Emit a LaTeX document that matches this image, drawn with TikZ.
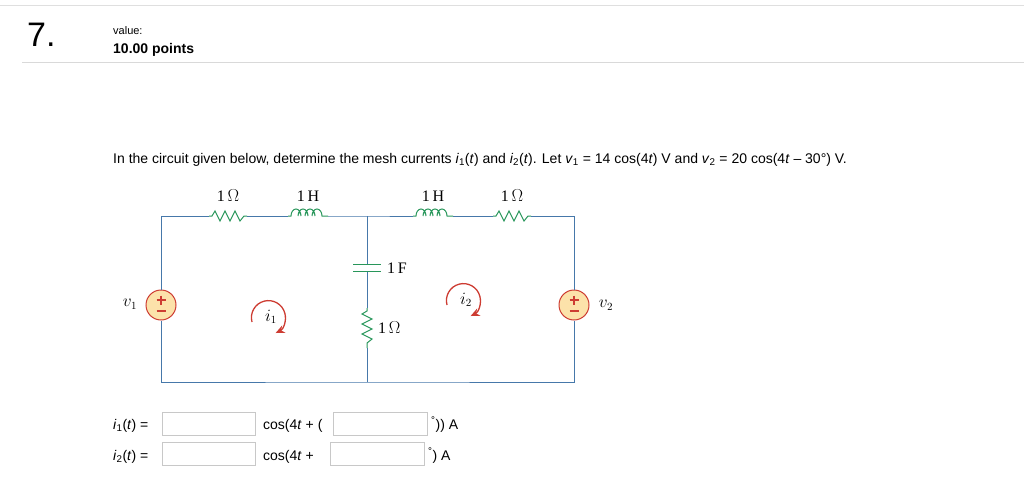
\documentclass[tikz,border=0pt]{standalone}
\usepackage{fontspec}
\setmainfont{Liberation Sans}
\newfontfamily\serif{Liberation Serif}
\usetikzlibrary{arrows.meta}
\definecolor{wireblue}{RGB}{70,120,170}
\definecolor{elgreen}{RGB}{40,150,90}
\definecolor{srcfill}{RGB}{252,226,170}
\definecolor{srcred}{RGB}{205,60,50}
\definecolor{boxgray}{RGB}{200,200,200}
\tikzset{
 wire/.style={draw=wireblue,line width=0.9pt},
 elem/.style={draw=elgreen,line width=1pt},
 lbl/.style={font=\serif\fontsize{16}{16}\selectfont,inner sep=1pt},
 src/.style={circle,draw=srcred,fill=srcfill,line width=1pt,minimum size=30pt,inner sep=0pt},
 mesh/.style={draw=srcred,line width=1.3pt,-{Stealth[length=9pt,width=8pt]}},
 txt/.style={font=\fontsize{14}{14}\selectfont,inner sep=0pt,anchor=base west},
 ansbox/.style={draw=boxgray,line width=0.6pt,minimum width=93pt,minimum height=23pt,inner sep=0pt}
}
\begin{document}
\begin{tikzpicture}[x=1pt,y=-1pt]
\useasboundingbox (0,0) rectangle (1024,495);
\draw[gray!25] (0,5) -- (1024,5);
\draw[gray!30] (22,62) -- (1024,62);
\node[txt,font=\fontsize{34}{34}\selectfont] (num) at (27,46) {7.};
\node[txt,font=\fontsize{11}{11}\selectfont] (val) at (113,35) {value:};
\node[txt,font=\bfseries\fontsize{14}{14}\selectfont] (pts) at (113,53) {10.00 points};
\node[txt] (q) at (113,163) {In the circuit given below, determine the mesh currents \textit{i}\textsubscript{1}(\textit{t}) and \textit{i}\textsubscript{2}(\textit{t}). Let \textit{v}\textsubscript{1} = 14 cos(4\textit{t}) V and \textit{v}\textsubscript{2} = 20 cos(4\textit{t} -- 30°) V.};
% nodes
\coordinate (tl) at (161,216); \coordinate (tm) at (367,216); \coordinate (tr) at (574,216);
\coordinate (bl) at (161,382); \coordinate (bm) at (367,382); \coordinate (br) at (574,382);
\node[src] (s1) at (161,305) {};
\node[src] (s2) at (574,305) {};
\foreach \s in {s1,s2}{
 \draw[srcred,line width=1.1pt] ([yshift=5pt]\s.center) ++(-4.5,0) -- ++(9,0) ++(-4.5,-4.5) -- ++(0,9);
 \draw[srcred,line width=1.1pt] ([yshift=-6pt]\s.center) ++(-4.5,0) -- ++(9,0);
}
% wires
\draw[wire] (tl) -- (s1.north) (s1.south) -- (bl) -- (bm) -- (br) -- (s2.south) (s2.north) -- (tr);
\draw[wire] (tl) -- (209,216) (247,216) -- (288,216) (328,216) -- (tm) -- (413,216) (453,216) -- (493,216) (531,216) -- (tr);
\draw[wire] (tm) -- (367,264) (367,271) -- (367,308) (367,348) -- (bm);
% resistors horizontal
\draw[elem] (209,216) -- (212,216) -- (215,211) -- (220,221) -- (225,211) -- (230,221) -- (235,211) -- (240,221) -- (244,216) -- (247,216);
\draw[elem] (493,216) -- (496,216) -- (499,211) -- (504,221) -- (509,211) -- (514,221) -- (519,211) -- (524,221) -- (528,216) -- (531,216);
% inductors
\foreach \x in {288,413}{
 \draw[elem] (\x,216) -- (\x+3,216) arc(180:360:5 and 7) arc(360:180:1.5 and 3.5) arc(180:360:5 and 7) arc(360:180:1.5 and 3.5) arc(180:360:5 and 7) arc(360:180:1.5 and 3.5) arc(180:360:5 and 7) -- (\x+40,216);
}
% capacitor
\draw[elem] (353,264) -- (381,264) (353,271) -- (381,271);
% vertical resistor
\draw[elem] (367,308) -- (367,311) -- (362,314) -- (372,319) -- (362,324) -- (372,329) -- (362,334) -- (372,339) -- (367,343) -- (367,348);
% labels
\node[lbl] (r1) at (228,196) {1\,$\Omega$};
\node[lbl] (l1) at (308,196) {1\,H};
\node[lbl] (l2) at (433,196) {1\,H};
\node[lbl] (r2) at (512,196) {1\,$\Omega$};
\node[lbl,anchor=west] (c) at (386,268) {1\,F};
\node[lbl,anchor=west] (r3) at (377,328) {1\,$\Omega$};
\node[lbl] (v1) at (130,304) {$v_1$};
\node[lbl] (v2) at (606,305) {$v_2$};
% mesh currents
\draw[mesh] (252,322) arc(165:425:17);
\node[lbl] (i1) at (271,317) {$i_1$};
\draw[mesh] (447,305) arc(165:425:17);
\node[lbl] (i2) at (466,300) {$i_2$};
% answers
\node[txt] (a1) at (113,429) {\textit{i}\textsubscript{1}(\textit{t}) =};
\node[ansbox] (b11) at (208.5,424) {};
\node[txt] (c1) at (263,429) {cos(4\textit{t} + (};
\node[ansbox,minimum width=94pt] (b12) at (380,424) {};
\node[txt] (d1) at (431,429) {\textsuperscript{°})) A};
\node[txt] (a2) at (113,460) {\textit{i}\textsubscript{2}(\textit{t}) =};
\node[ansbox] (b21) at (208.5,454) {};
\node[txt] (c2) at (263,460) {cos(4\textit{t} +};
\node[ansbox,minimum width=94pt] (b22) at (377,454) {};
\node[txt] (d2) at (428,460) {\textsuperscript{°}) A};
\end{tikzpicture}
\end{document}
